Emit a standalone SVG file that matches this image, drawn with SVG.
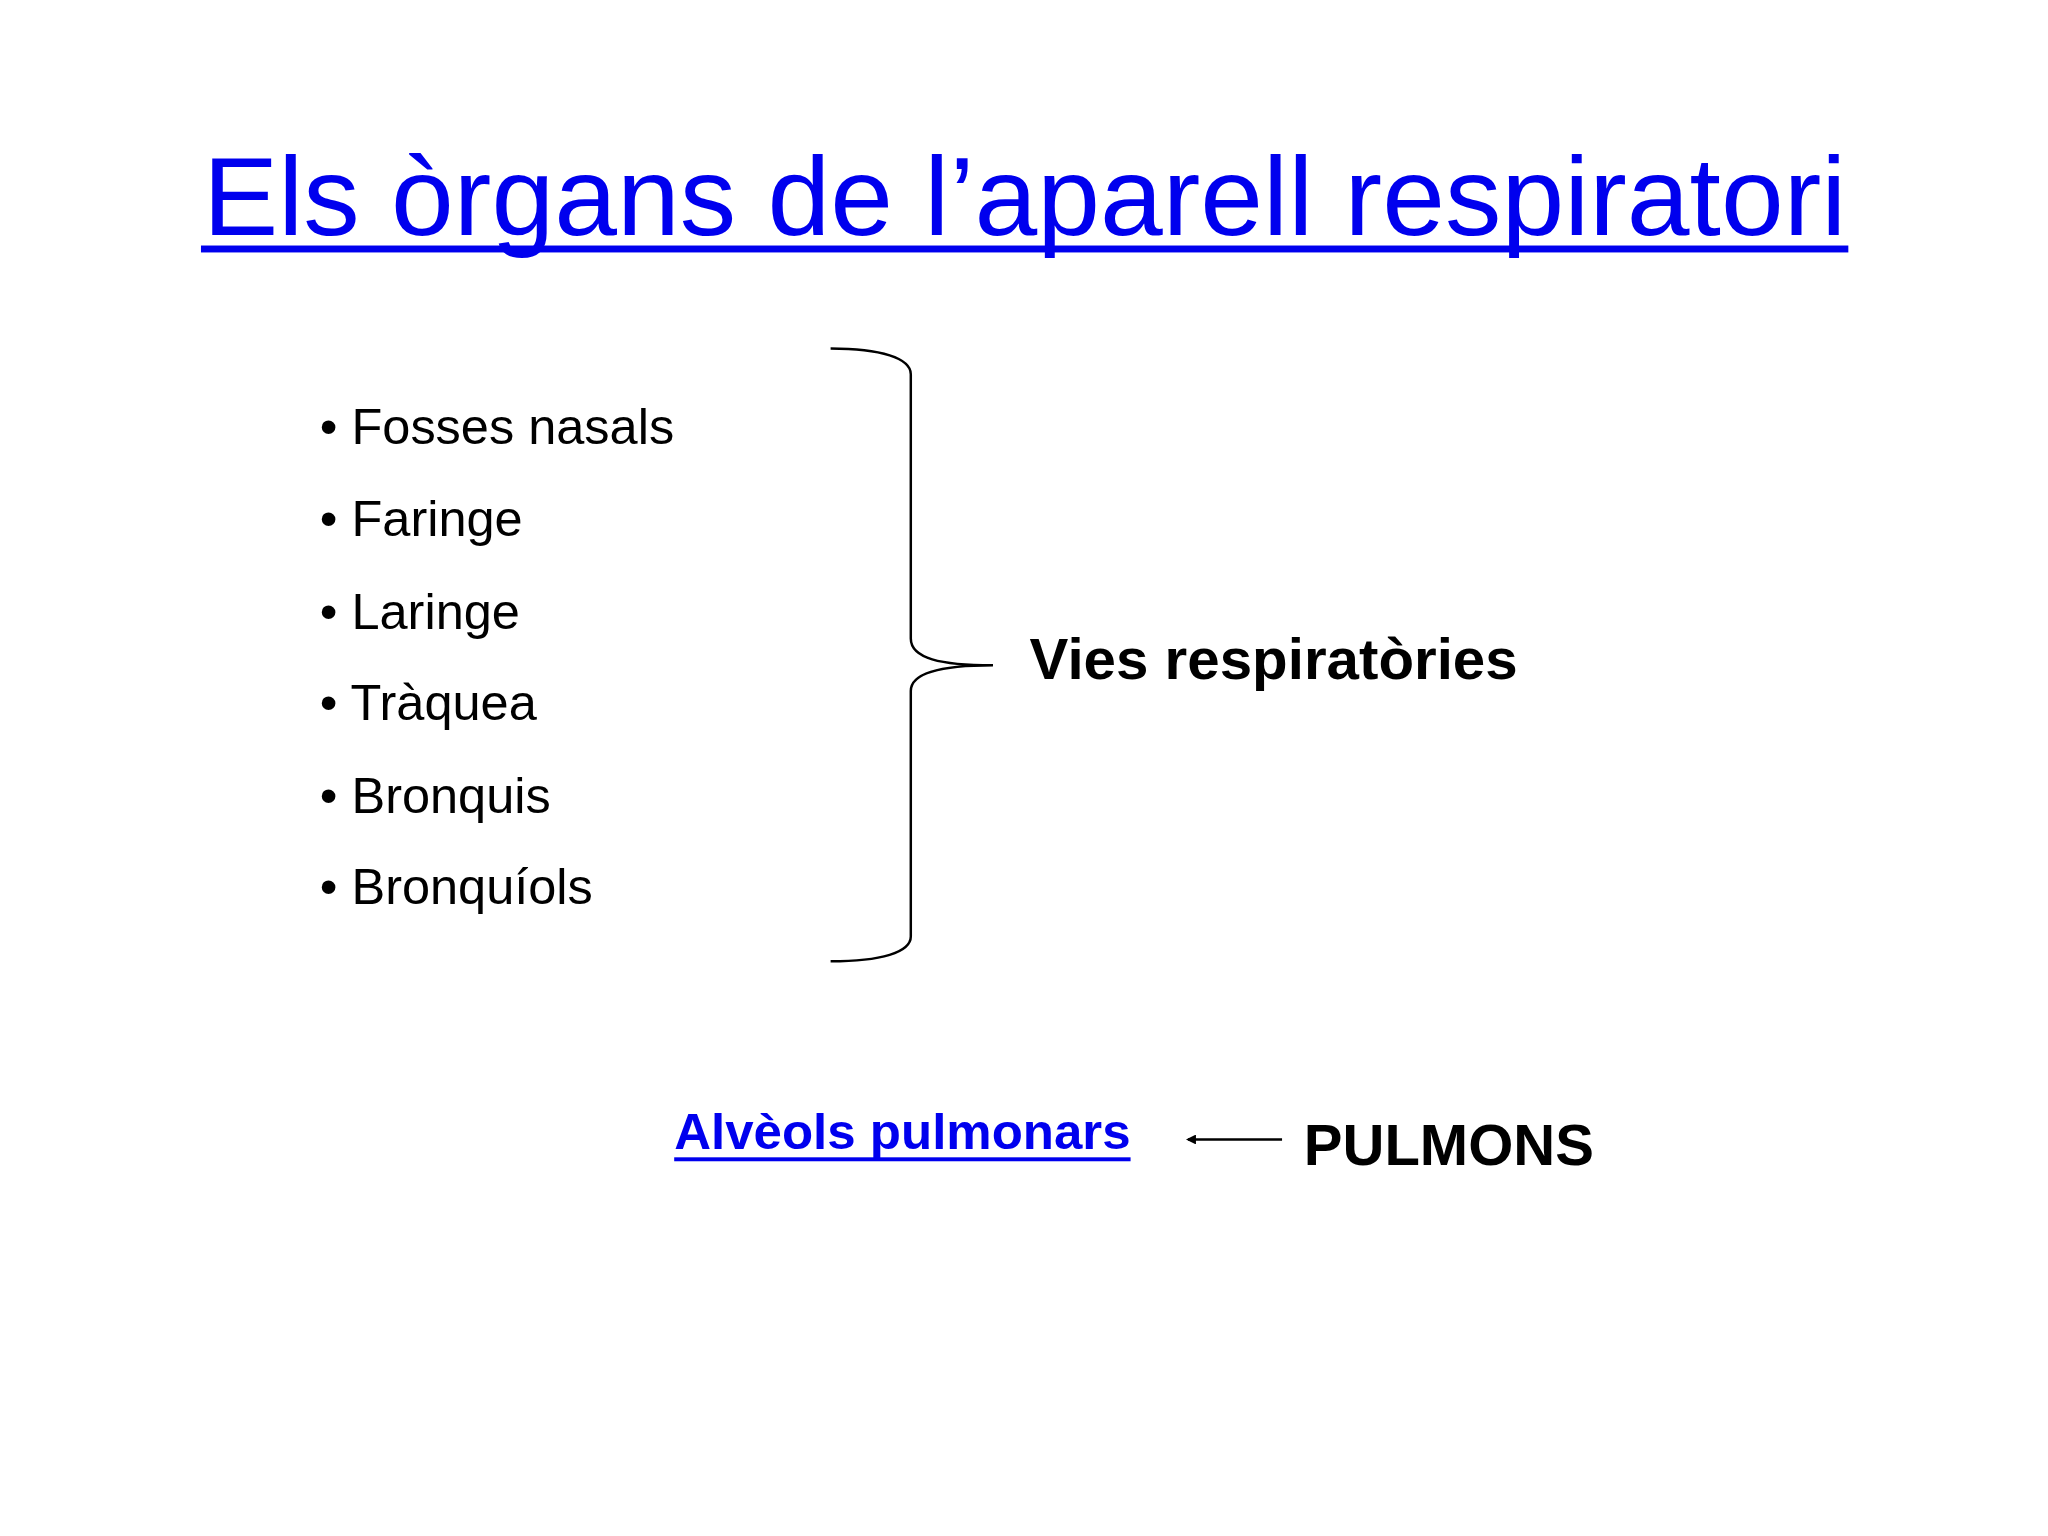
<svg xmlns="http://www.w3.org/2000/svg" width="2048" height="1536" viewBox="0 0 2048 1536">
<style>
.t{font-family:"Liberation Sans",Arial,sans-serif}
.item{font-size:51px;fill:#000}
.ln{fill:none;stroke:#000;stroke-width:2.5}
</style>
<defs><marker id="ah" markerWidth="10" markerHeight="10" refX="8" refY="5" orient="auto" markerUnits="userSpaceOnUse"><path d="M0,0 L10,5 L0,10 z" fill="#000"/></marker></defs>
<rect width="2048" height="1536" fill="#fff"/>
<g transform="scale(0.99)">
<g id="title">
<text class="t" x="205" y="237" font-size="112" fill="#0000ee" textLength="1660" lengthAdjust="spacingAndGlyphs">Els òrgans de l’aparell respiratori</text>
<rect x="203" y="248" width="1664" height="7" fill="#0000ee"/>
</g>
<g id="list">
<text class="t item" x="323" y="449">• Fosses nasals</text>
<text class="t item" x="323" y="541">• Faringe</text>
<text class="t item" x="323" y="635">• Laringe</text>
<text class="t item" x="323" y="727">• Tràquea</text>
<text class="t item" x="323" y="821">• Bronquis</text>
<text class="t item" x="323" y="913">• Bronquíols</text>
</g>
<g id="brace">
<path class="ln" d="M839,352 C890,352 920,362 920,378 L920,645 C920,665 950,672 1003,672 C950,672 920,680 920,698 L920,946 C920,962 890,971 839,971"/>
</g>
<g id="vies"><text class="t" x="1040" y="686" font-size="58" font-weight="bold" textLength="493" lengthAdjust="spacingAndGlyphs">Vies respiratòries</text></g>
<g id="alveols">
<text class="t" x="681" y="1161" font-size="50" font-weight="bold" fill="#0000ee" textLength="461" lengthAdjust="spacingAndGlyphs">Alvèols pulmonars</text>
<rect x="681" y="1169" width="461" height="4" fill="#0000ee"/>
</g>
<g id="pulmons"><text class="t" x="1317" y="1177" font-size="58" font-weight="bold" textLength="293" lengthAdjust="spacingAndGlyphs">PULMONS</text></g>
<g id="connectors"><line class="ln" x1="1295" y1="1151" x2="1200" y2="1151" marker-end="url(#ah)"/></g>
</g>
</svg>
